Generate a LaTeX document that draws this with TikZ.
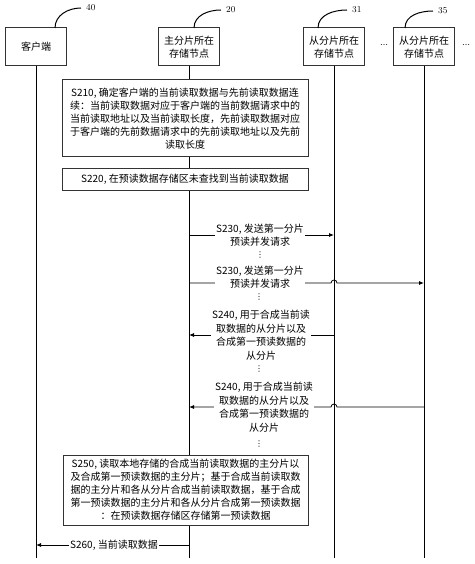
\documentclass[tikz,border=0pt]{standalone}
\usepackage{fontspec}
\newfontfamily\cjk{Noto Sans CJK SC}
\newfontfamily\dejavu{DejaVu Sans}
\usetikzlibrary{arrows.meta}
\begin{document}
\begin{tikzpicture}[x=1pt,y=-1pt,
  every node/.style={font=\cjk\fontsize{10}{13}\selectfont},
  hbox/.style={draw=black!80, line width=1pt, fill=white, minimum width=61pt, minimum height=38pt, align=center, inner sep=2pt},
  stepbox/.style={draw=black!80, line width=1pt, fill=white, align=center, inner sep=2pt},
  life/.style={line width=0.8pt},
  msg/.style={line width=0.8pt, -{Latex[length=5pt,width=4pt]}},
  lbl/.style={fill=white, align=center, inner sep=1pt, font=\cjk\fontsize{10}{13.5}\selectfont},
  vdot/.style={inner sep=0pt, font=\dejavu\fontsize{8}{8}\selectfont},
  refnum/.style={font=\fontsize{9}{10}\selectfont, anchor=west, inner sep=5pt},
  refcurve/.style={line width=1pt}]
\useasboundingbox (0,0) rectangle (474,564);

% header boxes
\node[hbox] (client) at (36,47) {客户端};
\node[hbox] (main) at (189,47) {主分片所在\\存储节点};
\node[hbox] (s31) at (334,47) {从分片所在\\存储节点};
\node[hbox] (s35) at (424,47) {从分片所在\\存储节点};
\node[vdot] (d1) at (384,46) {⋯};
\node[vdot] (d2) at (466,46) {⋯};

% reference numerals
\node[refnum] (t40) at (81,8) {40};
\node[refnum] (t20) at (221,10) {20};
\node[refnum] (t31) at (347,10) {31};
\node[refnum] (t35) at (433,11) {35};
\coordinate (a40) at (55,28);
\coordinate (a20) at (194,28);
\coordinate (a31) at (318,28);
\coordinate (a35) at (405,28);
\draw[refcurve] (a40) to[out=90,in=180] (t40.west);
\draw[refcurve] (a20) to[out=90,in=180] (t20.west);
\draw[refcurve] (a31) to[out=90,in=180] (t31.west);
\draw[refcurve] (a35) to[out=90,in=180] (t35.west);

% lifelines
\coordinate (cend) at (36,558);
\coordinate (mend) at (189,558);
\coordinate (e31) at (334,558);
\coordinate (e35) at (424,558);
\draw[life] (client.south) -- (cend);
\draw[life] (main.south) -- (mend);
\draw[life] (s31.south) -- (e31);
\draw[life] (s35.south) -- (e35);

% step boxes
\node[stepbox, minimum width=246pt, minimum height=77pt] (b210) at (185,118.5) {S210, 确定客户端的当前读取数据与先前读取数据连\\续：当前读取数据对应于客户端的当前数据请求中的\\当前读取地址以及当前读取长度，先前读取数据对应\\于客户端的先前数据请求中的先前读取地址以及先前\\读取长度};
\node[stepbox, minimum width=246pt, minimum height=22pt] (b220) at (185,179) {S220, 在预读数据存储区未查找到当前读取数据};
\node[stepbox, minimum width=245pt, minimum height=70pt] (b250) at (185.5,490) {S250, 读取本地存储的合成当前读取数据的主分片以\\及合成第一预读数据的主分片；基于合成当前读取数\\据的主分片和各从分片合成当前读取数据，基于合成\\第一预读数据的主分片和各从分片合成第一预读数据\\：在预读数据存储区存储第一预读数据};

% message points
\coordinate (m1) at (189,235); \coordinate (r1) at (334,235);
\coordinate (m2) at (189,283); \coordinate (j2) at (331,283); \coordinate (q2) at (424,283);
\coordinate (m3) at (189,335); \coordinate (r3) at (334,335);
\coordinate (m4) at (189,407); \coordinate (j4) at (337,407); \coordinate (q4) at (424,407);
\coordinate (m5) at (189,545); \coordinate (c5) at (36,545);

\draw[msg] (m1) -- (r1);
\draw[msg] (m2) -- (j2) arc(180:360:3) -- (q2);
\draw[msg] (r3) -- (m3);
\draw[msg] (q4) -- (j4) arc(360:180:3) -- (m4);
\draw[msg] (m5) -- (c5);

% labels
\node[lbl] (l1) at (260,235) {S230, 发送第一分片\\预读并发请求};
\node[vdot] (v1) at (260,255) {⋮};
\node[lbl] (l2) at (260,277) {S230, 发送第一分片\\预读并发请求};
\node[vdot] (v2) at (259,297) {⋮};
\node[lbl] (l3) at (261,335) {S240, 用于合成当前读\\取数据的从分片以及\\合成第一预读数据的\\从分片};
\node[vdot] (v3) at (259,369) {⋮};
\node[lbl] (l4) at (264,407) {S240, 用于合成当前读\\取数据的从分片以及\\合成第一预读数据的\\从分片};
\node[vdot] (v4) at (259,444) {⋮};
\node[lbl] (l5) at (114,545) {S260, 当前读取数据};
\end{tikzpicture}
\end{document}
